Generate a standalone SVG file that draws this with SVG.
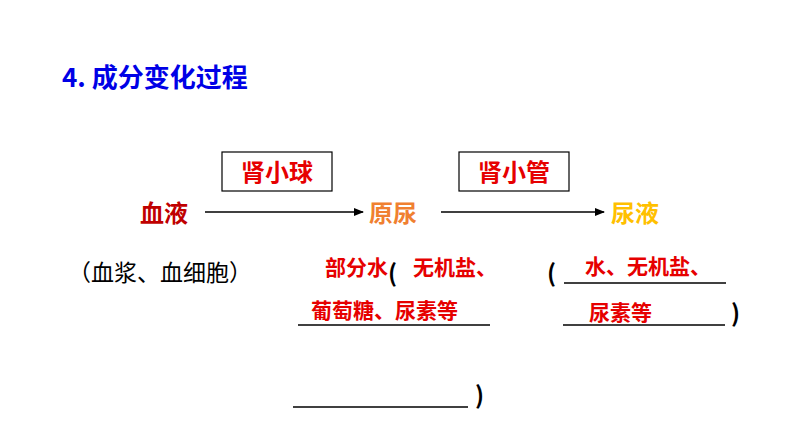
<svg xmlns="http://www.w3.org/2000/svg" width="794" height="447" viewBox="0 0 794 447">
<style>
text{font-family:"Noto Sans CJK SC","Noto Sans",sans-serif;font-weight:bold}
.r{fill:#e60000;font-size:21px}
.k{fill:#000;font-size:24px}
.l{stroke:#000;stroke-width:1.5}
.box{fill:#fff;stroke:#000;stroke-width:1.2}
</style>
<defs><marker id="a" markerWidth="10" markerHeight="8" refX="9" refY="4" orient="auto" markerUnits="userSpaceOnUse"><path d="M0,0L10,4L0,8Z" fill="#000"/></marker></defs>
<rect width="794" height="447" fill="#fff"/>
<text x="62" y="87" fill="#0000e6" font-size="26">4. 成分变化过程</text>
<g id="box1"><rect class="box" x="222" y="152" width="110" height="39"/><text x="277" y="181" fill="#e60000" font-size="24" text-anchor="middle">肾小球</text></g>
<g id="box2"><rect class="box" x="459" y="152" width="110" height="39"/><text x="514" y="181" fill="#e60000" font-size="24" text-anchor="middle">肾小管</text></g>
<g id="n1"><text x="140" y="222" fill="#c00000" font-size="24">血液</text></g>
<g id="n2"><text x="369" y="222" fill="#f08030" font-size="24">原尿</text></g>
<g id="n3"><text x="611" y="222" fill="#ffc000" font-size="24">尿液</text></g>
<g id="edges">
<line x1="205" y1="212" x2="363" y2="212" stroke="#000" stroke-width="1.5" marker-end="url(#a)"/>
<line x1="441" y1="212" x2="604" y2="212" stroke="#000" stroke-width="1.5" marker-end="url(#a)"/>
</g>
<text x="68" y="281" font-size="23" fill="#000" style="font-weight:normal">（血浆、血细胞）</text>
<text x="325" y="275" class="r">部分水</text>
<text x="388" y="282" class="k">(</text>
<text x="413" y="275" class="r">无机盐、</text>
<text x="311" y="318" class="r">葡萄糖、尿素等</text>
<line class="l" x1="298" y1="325" x2="490" y2="325"/>
<line class="l" x1="293" y1="407" x2="468" y2="407"/>
<text x="475" y="404" class="k">)</text>
<text x="547" y="282" class="k">(</text>
<text x="585" y="274" class="r">水、无机盐、</text>
<line class="l" x1="564" y1="283" x2="726" y2="283"/>
<text x="589" y="320" class="r">尿素等</text>
<line class="l" x1="563" y1="325" x2="725" y2="325"/>
<text x="731" y="322" class="k">)</text>
</svg>
